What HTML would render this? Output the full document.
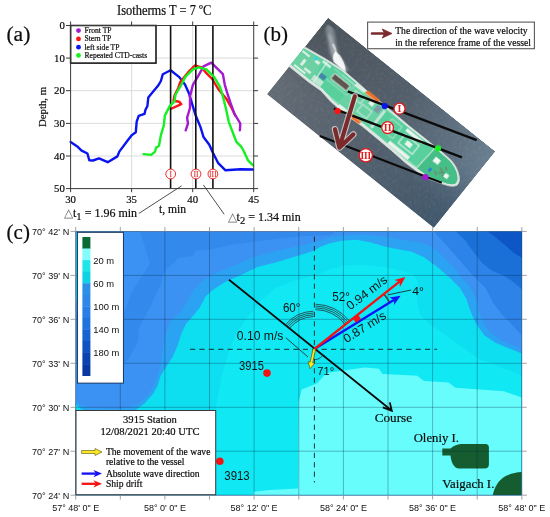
<!DOCTYPE html>
<html lang="en"><head><meta charset="utf-8"><title>Figure</title>
<style>html,body{margin:0;padding:0;background:#fff}svg{display:block}.se{font-family:"Liberation Serif", serif}.sa{font-family:"Liberation Sans", sans-serif}</style></head><body>
<svg width="550" height="517" viewBox="0 0 550 517">
<rect width="550" height="517" fill="#fff"/>
<g id="panel-a">
<path d="M131.6 25.5 V188.6 M192.7 25.5 V188.6 M70.6 58.1 H253.7 M70.6 90.7 H253.7 M70.6 123.4 H253.7 M70.6 156.0 H253.7" stroke="#d8d8d8" stroke-width="0.9" fill="none"/>
<polyline points="70.6,142.0 77.7,146.8 81.6,150.6 87.4,153.5 89.3,160.3 93.0,160.5 99.0,158.4 107.7,162.2 117.4,156.4 119.3,151.6 128.0,140.0 131.9,135.1 135.8,132.2 136.7,121.6 138.7,115.8 144.5,113.9 145.4,110.0 147.4,106.0 148.3,97.4 153.2,91.6 158.0,85.8 160.9,81.0 162.8,74.2 170.6,70.3 179.3,77.1 185.1,84.8 189.0,93.5 191.9,103.2 195.8,115.8 200.6,127.4 203.5,137.0 209.3,144.8 212.9,152.7 218.0,162.8 225.5,170.3 240.5,169.3 253.0,169.5" fill="none" stroke="#0a14f0" stroke-width="2.4" stroke-linejoin="round" stroke-linecap="round"/>
<polyline points="170.6,109.0 181.3,104.2 179.3,101.8 173.5,100.7 174.5,95.5 178.4,87.7 180.3,81.9 189.0,71.3 194.8,65.5 201.6,67.4 206.4,73.2 212.2,79.0 218.0,88.7 226.7,99.3 231.6,108.0 235.4,115.8" fill="none" stroke="#ff1212" stroke-width="2.4" stroke-linejoin="round" stroke-linecap="round"/>
<polyline points="185.7,130.3 188.0,123.5 187.1,117.7 190.0,108.0 190.0,96.4 192.9,84.8 198.7,75.1 203.5,66.4 211.3,62.6 217.1,68.4 222.9,74.2 224.8,84.8 227.7,94.5 230.6,103.2 234.5,113.8 240.3,123.5 239.9,130.3" fill="none" stroke="#a41ad0" stroke-width="2.4" stroke-linejoin="round" stroke-linecap="round"/>
<line x1="170.6" y1="25.5" x2="170.6" y2="188.6" stroke="#111" stroke-width="1.6"/>
<line x1="195.8" y1="25.5" x2="195.8" y2="188.6" stroke="#111" stroke-width="1.6"/>
<line x1="212.9" y1="25.5" x2="212.9" y2="188.6" stroke="#111" stroke-width="1.6"/>
<polyline points="143.5,154.1 151.2,154.9 155.1,151.6 156.0,147.7 159.0,145.8 160.9,135.1 163.8,125.5 164.8,115.8 169.7,106.1 174.5,101.3 175.5,94.5 181.3,84.8 185.1,77.1 192.9,69.3 198.7,67.4 206.4,69.3 214.2,77.1 220.0,86.8 222.9,96.4 225.8,108.0 228.7,121.6 231.6,129.3 234.5,137.0 236.4,141.9 241.2,146.7 243.2,150.0 248.0,160.3 253.0,165.3" fill="none" stroke="#14f022" stroke-width="2.4" stroke-linejoin="round" stroke-linecap="round"/>
<rect x="70.6" y="25.5" width="85.4" height="37.6" fill="#fff" stroke="#0a0a0a" stroke-width="1.5"/>
<circle cx="78.5" cy="30.6" r="2.4" fill="#a41ad0"/>
<text class="se" x="84.5" y="33.0" font-size="7.6" fill="#0c0c0c" stroke="#0c0c0c" stroke-width="0.2">Front TP</text>
<circle cx="78.5" cy="38.9" r="2.4" fill="#ff1212"/>
<text class="se" x="84.5" y="41.3" font-size="7.6" fill="#0c0c0c" stroke="#0c0c0c" stroke-width="0.2">Stern TP</text>
<circle cx="78.5" cy="47.2" r="2.4" fill="#0a14f0"/>
<text class="se" x="84.5" y="49.6" font-size="7.6" fill="#0c0c0c" stroke="#0c0c0c" stroke-width="0.2">left side TP</text>
<circle cx="78.5" cy="55.4" r="2.4" fill="#14f022"/>
<text class="se" x="84.5" y="57.8" font-size="7.6" fill="#0c0c0c" stroke="#0c0c0c" stroke-width="0.2">Repeated CTD-casts</text>
<rect x="70.6" y="25.5" width="183.1" height="163.1" fill="none" stroke="#3a3a3a" stroke-width="1"/>
<path d="M66.0 25.5 H70.6 M253.7 25.5 H258.09999999999997 M66.0 58.1 H70.6 M253.7 58.1 H258.09999999999997 M66.0 90.7 H70.6 M253.7 90.7 H258.09999999999997 M66.0 123.4 H70.6 M253.7 123.4 H258.09999999999997 M66.0 156.0 H70.6 M253.7 156.0 H258.09999999999997 M66.0 188.6 H70.6 M253.7 188.6 H258.09999999999997 M70.6 21.5 V25.5 M70.6 188.6 V192.2 M131.6 21.5 V25.5 M131.6 188.6 V192.2 M192.7 21.5 V25.5 M192.7 188.6 V192.2 M253.7 21.5 V25.5 M253.7 188.6 V192.2" stroke="#3a3a3a" stroke-width="1" fill="none"/>
<text class="se" x="64.9" y="29.0" font-size="10.8" text-anchor="end" fill="#0c0c0c" stroke="#0c0c0c" stroke-width="0.2">0</text>
<text class="se" x="64.9" y="61.6" font-size="10.8" text-anchor="end" fill="#0c0c0c" stroke="#0c0c0c" stroke-width="0.2">10</text>
<text class="se" x="64.9" y="94.2" font-size="10.8" text-anchor="end" fill="#0c0c0c" stroke="#0c0c0c" stroke-width="0.2">20</text>
<text class="se" x="64.9" y="126.9" font-size="10.8" text-anchor="end" fill="#0c0c0c" stroke="#0c0c0c" stroke-width="0.2">30</text>
<text class="se" x="64.9" y="159.5" font-size="10.8" text-anchor="end" fill="#0c0c0c" stroke="#0c0c0c" stroke-width="0.2">40</text>
<text class="se" x="64.9" y="192.1" font-size="10.8" text-anchor="end" fill="#0c0c0c" stroke="#0c0c0c" stroke-width="0.2">50</text>
<text class="se" x="70.6" y="202.8" font-size="10.8" text-anchor="middle" fill="#0c0c0c" stroke="#0c0c0c" stroke-width="0.2">30</text>
<text class="se" x="131.6" y="202.8" font-size="10.8" text-anchor="middle" fill="#0c0c0c" stroke="#0c0c0c" stroke-width="0.2">35</text>
<text class="se" x="192.7" y="202.8" font-size="10.8" text-anchor="middle" fill="#0c0c0c" stroke="#0c0c0c" stroke-width="0.2">40</text>
<text class="se" x="253.7" y="202.8" font-size="10.8" text-anchor="middle" fill="#0c0c0c" stroke="#0c0c0c" stroke-width="0.2">45</text>
<text class="se" transform="translate(45.8,107) rotate(-90)" font-size="10.8" text-anchor="middle" fill="#0c0c0c" stroke="#0c0c0c" stroke-width="0.2">Depth, m</text>
<text class="se" x="117" y="15.4" font-size="14.2" fill="#0c0c0c" stroke="#0c0c0c" stroke-width="0.2" textLength="94.2" lengthAdjust="spacingAndGlyphs">Isotherms T = 7 ºC</text>
<text class="se" x="6.4" y="41" font-size="21.6" fill="#0c0c0c" stroke="#0c0c0c" stroke-width="0.2">(a)</text>
<circle cx="170.7" cy="174" r="4.9" fill="#fff" fill-opacity="0.9" stroke="#f01818" stroke-width="0.9"/>
<text class="se" x="170.7" y="176.6" font-size="7.6" text-anchor="middle" fill="#f01818">I</text>
<circle cx="196" cy="174" r="4.9" fill="#fff" fill-opacity="0.9" stroke="#f01818" stroke-width="0.9"/>
<text class="se" x="196" y="176.6" font-size="7.6" text-anchor="middle" fill="#f01818">II</text>
<circle cx="212.9" cy="174" r="4.9" fill="#fff" fill-opacity="0.9" stroke="#f01818" stroke-width="0.9"/>
<text class="se" x="212.9" y="176.6" font-size="7.6" text-anchor="middle" fill="#f01818">III</text>
<path d="M181.5 185.9 L138.8 213.5 M203.4 184.9 L224.2 214.3" stroke="#222" stroke-width="0.8" fill="none"/>
<text class="se" x="64" y="217.4" font-size="12" fill="#0c0c0c" stroke="#0c0c0c" stroke-width="0.2"><tspan fill="#666" stroke="none">△</tspan>t<tspan dy="2.6" font-size="10.6">1</tspan><tspan dy="-2.6"> = 1.96 min</tspan></text>
<text class="se" x="172.5" y="213.2" font-size="11.6" text-anchor="middle" fill="#0c0c0c" stroke="#0c0c0c" stroke-width="0.2">t, min</text>
<text class="se" x="227.6" y="221.4" font-size="12" fill="#0c0c0c" stroke="#0c0c0c" stroke-width="0.2"><tspan fill="#666" stroke="none">△</tspan>t<tspan dy="2.6" font-size="10.6">2</tspan><tspan dy="-2.6"> = 1.34 min</tspan></text>
</g>
<g id="panel-b">
<defs><linearGradient id="wgb" x1="0" y1="0" x2="1" y2="0"><stop offset="0" stop-color="#646c75"/><stop offset="0.45" stop-color="#56626e"/><stop offset="1" stop-color="#41576b"/></linearGradient><linearGradient id="wgt" x1="0" y1="0" x2="1" y2="0"><stop offset="0" stop-color="#4b535b"/><stop offset="0.5" stop-color="#525e6a"/><stop offset="1" stop-color="#6a8092"/></linearGradient><linearGradient id="wgm" x1="0" y1="0" x2="0" y2="1"><stop offset="0" stop-color="#fff"/><stop offset="0.3" stop-color="#fff" stop-opacity="0.85"/><stop offset="0.75" stop-color="#fff" stop-opacity="0.1"/><stop offset="1" stop-color="#fff" stop-opacity="0"/></linearGradient><mask id="wmk" maskUnits="userSpaceOnUse" x="-107" y="-49" width="214" height="98"><rect x="-107" y="-49" width="214" height="98" fill="url(#wgm)"/></mask><filter id="wn" x="0" y="0" width="100%" height="100%"><feTurbulence type="fractalNoise" baseFrequency="0.35" numOctaves="2" seed="3" result="n"/><feColorMatrix in="n" type="matrix" values="0 0 0 0 1  0 0 0 0 1  0 0 0 0 1  0.9 0 0 0 -0.38"/><feComposite operator="in" in2="SourceGraphic"/></filter><filter id="bl1"><feGaussianBlur stdDeviation="1.4"/></filter><filter id="bl2"><feGaussianBlur stdDeviation="0.5"/></filter><clipPath id="pc"><rect x="-107" y="-49" width="214" height="98"/></clipPath></defs>
<g transform="translate(381,122.8) rotate(38.7)"><g clip-path="url(#pc)">
<rect x="-107" y="-49" width="214" height="98" fill="url(#wgb)"/>
<rect x="-107" y="-49" width="214" height="98" fill="url(#wgt)" mask="url(#wmk)"/>
<rect x="-107" y="-49" width="214" height="98" fill="#8fa3b5" opacity="0.16" filter="url(#wn)"/>
<path d="M-99 -41 C-93 -37 -88 -31 -82 -26 C-77 -22 -70 -20 -62 -18" stroke="#b4bec6" stroke-width="8" fill="none" opacity="0.5" filter="url(#bl1)" stroke-linecap="round"/>
<path d="M-95 -36 C-90 -33 -85 -29 -80 -25 C-76 -22 -70 -20 -63 -18.5" stroke="#e4eaea" stroke-width="2.6" fill="none" opacity="0.5" filter="url(#bl1)" stroke-linecap="round"/>
<path d="M-80 -27 C-76 -28 -69 -26 -63 -21.5 L-59 -17 L-75 -18 C-79 -20.5 -80.5 -24 -80 -27Z" fill="#fff" opacity="0.9" filter="url(#bl2)"/>
<path d="M-86 -31 C-83 -30 -80 -28 -77 -25" stroke="#fff" stroke-width="2.2" fill="none" opacity="0.6" filter="url(#bl2)" stroke-linecap="round"/>
<path d="M-108 -11.4 L-82 -15.5 L-63 -17.5 L-44 -16.9 L-25 -15.8 L-8 -16.0 L24 -15.2 L53 -15.3 L62 -15.4 L77 -14.7 C84 -14 90 -11 94 -7.5 C97 -5 98.8 -2 98.4 1 C97.6 4 93 6.8 89 8.2 C82 10.8 75 13.4 68.6 14.8 L56 15.5 L44 16 L25 15.1 L7 14.7 L-12 14.5 L-34 15.8 L-53 14.8 L-67 12.5 L-82 13.5 L-108 13.5Z" fill="#dfe7e2" stroke="#cfd8d4" stroke-width="0.8"/>
<path d="M-108 -9.8 L-82 -13.9 L-63 -15.9 L-44 -15.3 L-25 -14.2 L-8 -14.4 L24 -13.6 L53 -13.7 L62 -13.8 L77 -13.1 C83 -12.4 88.5 -9.8 92.2 -6.6 C95 -4.2 96.4 -1.8 96 0.6 C95.4 3 91.5 5.2 88 6.6 C81 9 74 11 68.2 12.2 L56 12.9 L44 13.4 L25 12.5 L7 12.1 L-12 11.9 L-34 13.2 L-53 12.2 L-67 9.9 L-82 10.9 L-108 10.9Z" fill="#58d09e"/>
<path d="M57 -14 L76 -13.2 C83 -12.4 88.5 -9.8 92.2 -6.6 C95 -4.2 96.4 -1.8 96 0.6 C95.4 3 91.5 5.2 88 6.6 C81 9 74 11 68.2 12.2 L55.5 12.8Z" fill="#46be88"/>
<g filter="url(#bl2)">
<path d="M-108 -9 L-84 -12.5 L-80 10 L-108 10.5Z" fill="#6fd0a4" opacity="0.8"/>
<path d="M-106 -8 h9 v2 h-9z M-100 -2 h3 v7 h-3z M-94 4 h8 v2.4 h-8z M-90 -9 h5 v3 h-5z M-84 -13 h10 v2.4 h-10z M-104 8 h14 v2 h-14z" fill="#eef5f0" opacity="0.85"/>
<rect x="-93" y="-11" width="4" height="3" fill="#30d8e0" opacity="0.9"/>
<rect x="-78" y="-2" width="7" height="5" fill="#3f6fb0" opacity="0.75"/>
<path d="M-80 -14 L-78 11" stroke="#eaf3ee" stroke-width="1.2" opacity="0.8"/>
<path d="M-82 4 h12 v6 h-12z" fill="#e8f0ea" opacity="0.7"/>
<rect x="-67" y="-9.8" width="20" height="6.8" rx="1.2" fill="#5c5650" stroke="#e3eae4" stroke-width="1"/>
<path d="M-70 -13 H-44 V0 H-70" fill="none" stroke="#dfeee6" stroke-width="0.7" opacity="0.7"/>
<rect x="-31" y="-17.2" width="16" height="4.4" rx="2" fill="#f0712c"/>
<rect x="-33" y="10.6" width="17" height="4.4" rx="2" fill="#f0712c"/>
<path d="M-44 -15.5 h12 v3 h-12z M-44 11 h10 v3 h-10z" fill="#eef4f0" opacity="0.85"/>
<rect x="-46" y="-12" width="42" height="22" fill="#7ad4aa" opacity="0.5"/>
<rect x="-40" y="-9" width="12" height="7" fill="none" stroke="#eaf3ee" stroke-width="0.9" opacity="0.9"/>
<rect x="-26" y="-3" width="12" height="9" fill="none" stroke="#eaf3ee" stroke-width="0.9" opacity="0.9"/>
<rect x="-14" y="-12" width="6" height="7" fill="#7f8fa8" opacity="0.8"/>
<rect x="-6" y="-12" width="3" height="22" fill="#dfe9e3" opacity="0.8"/>
<rect x="-22" y="-11" width="5" height="4" fill="#f2f6f3" opacity="0.9"/>
<rect x="24" y="-12.4" width="21" height="3.6" fill="#f2f6f2" opacity="0.95"/>
<rect x="18" y="8.4" width="26" height="3.8" fill="#f2f6f2" opacity="0.95"/>
<rect x="26" y="-6" width="18" height="11" fill="none" stroke="#eef6f0" stroke-width="1.1" opacity="0.95"/>
<rect x="31.5" y="-3" width="7" height="5" fill="#f4f8f5" opacity="0.9"/>
<rect x="6" y="-10" width="13" height="15" fill="none" stroke="#dcebe2" stroke-width="0.8" opacity="0.85"/>
<path d="M58 -15 L56 13" stroke="#eaf2ec" stroke-width="1" opacity="0.95"/>
<rect x="64" y="-8" width="6.5" height="5.5" fill="#f6f9f7" opacity="0.98"/>
<rect x="66" y="4" width="3" height="4" fill="#2f7fd0" opacity="0.9"/>
<path d="M74 -2 l6 2 l-4 3 M80 3 l5 -1 M78 -6 l3 2 M72 4 l4 2" stroke="#8a6a5a" stroke-width="1.1" fill="none" opacity="0.8"/>
<rect x="82" y="-1.5" width="4.5" height="4.5" fill="#f6f9f7" opacity="0.95"/>
<path d="M-60 -13 L50 -14.5 M-60 11.5 L56 12.6" stroke="#e8f2ec" stroke-width="0.8" opacity="0.55" fill="none"/>
</g>
</g></g>
<path d="M347.8 91.4 L476.7 140.2 M333.8 108.7 L461.9 157.3 M319.8 136 L441.8 182.7" stroke="#0c0c0c" stroke-width="2.3" fill="none"/>
<circle cx="384.7" cy="106.0" r="3.1" fill="#0a14f0"/>
<circle cx="337.6" cy="111" r="3.1" fill="#ff1212"/>
<circle cx="438" cy="148.3" r="3.1" fill="#14f022"/>
<circle cx="425.4" cy="177.1" r="3.1" fill="#a41ad0"/>
<g fill="none" stroke-linecap="round" stroke-linejoin="round"><path d="M354.8 96.4 L340.6 143.5 M335 129.2 L339.4 147.6 L353.4 134.4" stroke="#f0e8e6" stroke-width="6.4" opacity="0.7"/><path d="M354.8 96.4 L340.6 143.5 M335 129.2 L339.4 147.6 L353.4 134.4" stroke="#7b2a2c" stroke-width="4.2"/></g>
<circle cx="399.5" cy="108.7" r="5.5" fill="#fff" stroke="#e81818" stroke-width="1.3"/>
<text class="se" x="397.6" y="112.3" font-size="10.6" font-weight="bold" fill="#e81818" textLength="3.9" lengthAdjust="spacingAndGlyphs">I</text>
<circle cx="387.6" cy="127.6" r="5.9" fill="#fff" stroke="#e81818" stroke-width="1.3"/>
<text class="se" x="383.8" y="131.2" font-size="10.6" font-weight="bold" fill="#e81818" textLength="7.7" lengthAdjust="spacingAndGlyphs">II</text>
<circle cx="365.8" cy="155.3" r="6.6" fill="#fff" stroke="#e81818" stroke-width="1.3"/>
<text class="se" x="360.4" y="158.9" font-size="10.6" font-weight="bold" fill="#e81818" textLength="10.8" lengthAdjust="spacingAndGlyphs">III</text>
<rect x="367.6" y="22.1" width="166.8" height="26.6" fill="#fff" stroke="#5a5a5a" stroke-width="1.1"/>
<path d="M372 33.5 H385" stroke="#7b2a2c" stroke-width="2.6" fill="none" stroke-linecap="round"/><path d="M382.2 29 L392 33.5 L382.2 38 L384.6 33.5Z" fill="#7b2a2c" stroke="#7b2a2c" stroke-width="0.8" stroke-linejoin="round"/>
<text class="se" x="395.2" y="34" font-size="10.1" fill="#0c0c0c" stroke="#0c0c0c" stroke-width="0.2" textLength="132.5" lengthAdjust="spacingAndGlyphs">The direction of the wave velocity</text>
<text class="se" x="395.2" y="46" font-size="10.1" fill="#0c0c0c" stroke="#0c0c0c" stroke-width="0.2" textLength="135.8" lengthAdjust="spacingAndGlyphs">in the reference frame of the vessel</text>
<text class="se" x="263.5" y="41" font-size="21" fill="#0c0c0c" stroke="#0c0c0c" stroke-width="0.2">(b)</text>
</g>
<g id="panel-c">
<defs><clipPath id="mc"><rect x="75.7" y="231.4" width="446.1" height="263.8"/></clipPath></defs>
<g clip-path="url(#mc)">
<rect x="75.7" y="231.4" width="446.1" height="263.8" fill="#3389ec"/>
<polygon points="75.7,231.4 140.0,231.4 144.0,244.0 150.0,264.0 142.0,276.0 132.0,292.0 126.0,308.0 124.0,312.0 75.7,312.0" fill="#3b92f3"/>
<rect x="75.7" y="231.4" width="1.8" height="70" fill="#14c6e0"/>
<polygon points="433.6,231.4 447.3,246.2 460.0,260.7 472.7,275.3 485.5,288.0 493.0,302.7 502.7,315.5 513.6,326.4 521.8,335.5 522.0,231.4" fill="#2e83e8"/>
<polygon points="455.8,231.4 464.5,239.6 474.2,253.1 481.9,262.8 491.6,270.6 503.3,275.5 512.0,281.0 522.0,289.5 522.0,231.4" fill="#1b70d8"/>
<polygon points="488.0,231.4 497.0,238.5 506.0,246.0 514.0,253.0 522.0,258.0 522.0,231.4" fill="#0c56c6"/>
<polygon points="75.7,364.0 123.0,364.0 127.7,360.0 133.2,351.0 138.6,340.0 138.0,330.0 144.0,318.0 150.0,308.0 156.0,294.0 161.0,284.0 163.0,275.0 167.0,268.0 174.0,263.0 178.0,258.0 193.0,256.0 196.0,250.4 208.0,250.0 230.0,245.0 248.0,242.5 275.5,239.0 303.0,236.0 330.0,235.3 336.0,231.4 433.6,231.4 447.3,246.2 460.0,260.7 472.7,275.3 485.5,288.0 493.0,302.7 502.7,315.5 513.6,326.4 521.8,335.5 521.8,495.2 75.7,495.2" fill="#3b92f3"/>
<polygon points="75.7,400.5 81.0,405.0 91.0,408.0 115.0,409.0 131.0,407.0 141.0,402.0 149.0,394.0 154.0,385.0 157.0,377.0 160.0,367.0 162.5,352.0 164.0,343.0 166.5,331.0 171.0,320.5 180.0,312.7 187.3,301.8 192.7,290.9 201.8,281.8 212.7,274.5 227.3,268.2 240.0,263.6 248.2,258.9 266.4,253.5 284.5,248.9 302.7,245.3 320.0,240.7 331.0,237.0 343.6,235.3 360.0,234.8 374.5,235.6 389.0,237.5 400.0,239.5 414.5,241.5 424.0,243.5 430.0,245.5 440.5,254.0 451.0,264.6 461.4,276.9 470.0,287.3 477.0,300.0 479.0,312.0 484.5,325.0 492.5,334.5 503.0,341.0 513.6,345.6 521.8,349.0 521.8,495.2 75.7,495.2" fill="#2ca2f3"/>
<polygon points="75.7,404.0 81.0,409.0 90.0,411.5 135.0,410.5 145.0,403.0 153.0,394.0 158.0,385.0 160.5,376.0 166.3,366.6 172.5,357.3 177.2,346.4 181.8,332.5 186.4,323.2 192.6,316.5 200.0,307.3 205.5,296.4 212.7,290.0 225.5,281.8 240.0,275.5 257.3,267.1 275.5,262.5 293.6,257.1 311.8,251.6 320.0,247.0 329.0,243.5 341.8,240.7 356.4,239.8 371.0,242.5 383.6,246.2 396.4,249.0 411.0,251.6 423.6,257.0 436.4,266.2 449.0,277.0 460.0,288.0 466.4,299.0 470.0,310.0 475.5,322.7 484.5,335.5 495.5,342.7 508.0,348.0 521.8,353.6 521.8,495.2 75.7,495.2" fill="#0ddff0"/>
<polygon points="214.0,495.2 214.8,415.0 218.8,391.0 222.9,370.9 229.0,350.6 237.0,332.3 247.2,318.0 253.6,310.0 260.9,300.7 275.5,288.0 293.6,280.7 311.8,276.2 320.0,273.5 331.0,268.9 347.3,265.3 365.5,265.3 383.6,267.1 401.8,270.7 414.0,275.0 418.0,282.0 417.0,300.0 420.0,315.0 430.0,324.5 441.0,331.8 453.6,341.0 466.4,350.0 479.0,359.0 493.6,364.5 508.0,370.0 521.8,375.5 521.8,495.2" fill="#10e9f4"/>
<polygon points="253.7,495.2 253.7,491.7 270.0,490.0 298.0,488.5 298.6,402.0 301.7,389.5 317.2,383.3 326.5,373.0 340.0,371.0 365.0,367.5 379.0,368.7 382.4,374.0 417.2,375.7 424.0,380.9 448.5,382.6 455.4,387.8 504.0,391.3 521.8,397.5 521.8,495.2" fill="#68fdfd"/>
<path d="M442.3 448.6 L450.5 448.6 C453 446 458 444 462.7 444 L485.5 444 Q488.9 444 488.9 447.5 L488.9 464.5 Q488.9 468.5 484.5 468.5 L459 468.5 C454 468.5 451 462 450.5 455.5 L442.3 455.5Z" fill="#155c30"/>
<path d="M492.8 495.2 C494 488 498 481 504 477 C509 473.8 515 472.4 521.8 472 L521.8 495.2Z" fill="#155c30"/>
<path d="M120.3 231.4 V495.2 M164.9 231.4 V495.2 M209.5 231.4 V495.2 M254.1 231.4 V495.2 M298.8 231.4 V495.2 M343.4 231.4 V495.2 M388.0 231.4 V495.2 M432.6 231.4 V495.2 M477.2 231.4 V495.2 M75.7 275.4 H521.8 M75.7 319.3 H521.8 M75.7 363.3 H521.8 M75.7 407.3 H521.8 M75.7 451.2 H521.8" stroke="#062040" stroke-opacity="0.45" stroke-width="0.7" fill="none"/>
</g>
<rect x="75.7" y="231.4" width="446.1" height="263.8" fill="none" stroke="#1a4a7a" stroke-opacity="0.8" stroke-width="0.8"/>
<path d="M70.5 231.4 H75.7 M521.8 231.4 H526.8 M70.5 275.4 H75.7 M521.8 275.4 H526.8 M70.5 319.3 H75.7 M521.8 319.3 H526.8 M70.5 363.3 H75.7 M521.8 363.3 H526.8 M70.5 407.3 H75.7 M521.8 407.3 H526.8 M70.5 451.2 H75.7 M521.8 451.2 H526.8 M70.5 495.2 H75.7 M521.8 495.2 H526.8 M75.7 227.0 V231.4 M75.7 495.2 V499.6 M120.3 227.0 V231.4 M120.3 495.2 V499.6 M164.9 227.0 V231.4 M164.9 495.2 V499.6 M209.5 227.0 V231.4 M209.5 495.2 V499.6 M254.1 227.0 V231.4 M254.1 495.2 V499.6 M298.8 227.0 V231.4 M298.8 495.2 V499.6 M343.4 227.0 V231.4 M343.4 495.2 V499.6 M388.0 227.0 V231.4 M388.0 495.2 V499.6 M432.6 227.0 V231.4 M432.6 495.2 V499.6 M477.2 227.0 V231.4 M477.2 495.2 V499.6 M521.8 227.0 V231.4 M521.8 495.2 V499.6" stroke="#9a9a9a" stroke-width="0.9" fill="none"/>
<text class="sa" x="69.2" y="234.7" font-size="9" text-anchor="end" fill="#111" textLength="37.2" lengthAdjust="spacingAndGlyphs">70° 42' N</text>
<text class="sa" x="69.2" y="278.7" font-size="9" text-anchor="end" fill="#111" textLength="37.2" lengthAdjust="spacingAndGlyphs">70° 39' N</text>
<text class="sa" x="69.2" y="322.6" font-size="9" text-anchor="end" fill="#111" textLength="37.2" lengthAdjust="spacingAndGlyphs">70° 36' N</text>
<text class="sa" x="69.2" y="366.6" font-size="9" text-anchor="end" fill="#111" textLength="37.2" lengthAdjust="spacingAndGlyphs">70° 33' N</text>
<text class="sa" x="69.2" y="410.6" font-size="9" text-anchor="end" fill="#111" textLength="37.2" lengthAdjust="spacingAndGlyphs">70° 30' N</text>
<text class="sa" x="69.2" y="454.6" font-size="9" text-anchor="end" fill="#111" textLength="37.2" lengthAdjust="spacingAndGlyphs">70° 27' N</text>
<text class="sa" x="69.2" y="498.5" font-size="9" text-anchor="end" fill="#111" textLength="37.2" lengthAdjust="spacingAndGlyphs">70° 24' N</text>
<text class="sa" x="75.7" y="511" font-size="9" text-anchor="middle" fill="#111">57° 48' 0" E</text>
<text class="sa" x="164.9" y="511" font-size="9" text-anchor="middle" fill="#111">58° 0' 0" E</text>
<text class="sa" x="254.1" y="511" font-size="9" text-anchor="middle" fill="#111">58° 12' 0" E</text>
<text class="sa" x="343.4" y="511" font-size="9" text-anchor="middle" fill="#111">58° 24' 0" E</text>
<text class="sa" x="432.6" y="511" font-size="9" text-anchor="middle" fill="#111">58° 36' 0" E</text>
<text class="sa" x="521.8" y="511" font-size="9" text-anchor="middle" fill="#111">58° 48' 0" E</text>
<text class="se" x="6.6" y="239.4" font-size="21" fill="#0c0c0c" stroke="#0c0c0c" stroke-width="0.2">(c)</text>
<rect x="77.4" y="232.3" width="46" height="150.8" fill="#fff" stroke="#0c2a55" stroke-width="0.9"/>
<rect x="82.4" y="237.00" width="8" height="11.86" fill="#0a6a36"/>
<rect x="82.4" y="248.56" width="8" height="11.86" fill="#84fcfc"/>
<rect x="82.4" y="260.12" width="8" height="11.86" fill="#20e6ea"/>
<rect x="82.4" y="271.68" width="8" height="11.86" fill="#10d2e2"/>
<rect x="82.4" y="283.23" width="8" height="11.86" fill="#2d90e6"/>
<rect x="82.4" y="294.79" width="8" height="11.86" fill="#2f88e8"/>
<rect x="82.4" y="306.35" width="8" height="11.86" fill="#2a7fe4"/>
<rect x="82.4" y="317.91" width="8" height="11.86" fill="#2074de"/>
<rect x="82.4" y="329.47" width="8" height="11.86" fill="#1562d0"/>
<rect x="82.4" y="341.02" width="8" height="11.86" fill="#0f52c2"/>
<rect x="82.4" y="352.58" width="8" height="11.86" fill="#0a42b2"/>
<rect x="82.4" y="364.14" width="8" height="11.86" fill="#0838a2"/>
<text class="sa" x="93.3" y="263.5" font-size="9.4" fill="#111">20 m</text>
<text class="sa" x="93.3" y="286.6" font-size="9.4" fill="#111">60 m</text>
<text class="sa" x="93.3" y="309.8" font-size="9.4" fill="#111">100 m</text>
<text class="sa" x="93.3" y="332.9" font-size="9.4" fill="#111">140 m</text>
<text class="sa" x="93.3" y="356.0" font-size="9.4" fill="#111">180 m</text>
<path d="M314.4 236.6 V482.4 M190 349.3 H437" stroke="#1a1a1a" stroke-width="0.9" stroke-dasharray="5.2 4.2" fill="none"/>
<path d="M229 279.7 L391.6 410.5 M389.8 402.4 L391.8 410.9 L382.8 407.4" stroke="#0a0a0a" stroke-width="1.8" fill="none" stroke-linejoin="miter"/>
<path d="M313.6 316.6 A32.4 32.4 0 0 0 289.4 328.4 M313.5 314.8 A34.2 34.2 0 0 0 288.0 327.2 M313.5 313.0 A36.0 36.0 0 0 0 286.6 326.1 M313.4 311.2 A37.8 37.8 0 0 0 285.2 325.0 M315.4 309.6 A39.4 39.4 0 0 1 345.0 324.2 M315.5 307.8 A41.2 41.2 0 0 1 346.4 323.1 M315.5 306.0 A43.0 43.0 0 0 1 347.8 321.9 M315.6 304.2 A44.8 44.8 0 0 1 349.2 320.8 M322.6 355.6 A10.5 10.5 0 0 1 312.2 359.3" stroke="#2a2a2a" stroke-width="0.75" fill="none"/>
<path d="M383.9 294.1 A88.5 88.5 0 0 1 389.6 302.4" stroke="#3c4a4a" stroke-width="1.7" fill="none"/>
<path d="M388 294.8 L411.2 290 M285.8 337.7 L308 357" stroke="#1a1a1a" stroke-width="0.8" fill="none"/>
<path d="M314.4 349.0 L394.2 299.8" stroke="#1212f4" stroke-width="2.3" fill="none"/>
<path d="M400.6 295.8 L394.0 305.1 L394.2 299.8 L389.4 297.6Z" fill="#1212f4"/>
<path d="M314.4 349.0 L399.5 281.7" stroke="#f41212" stroke-width="2.3" fill="none"/>
<path d="M405.4 277.0 L399.9 287.0 L399.5 281.7 L394.4 280.1Z" fill="#f41212"/>
<rect x="-3.2" y="-2.4" width="6.4" height="4.8" rx="1.2" fill="#f41212" transform="translate(357.1,318.8) rotate(-36)"/>
<polygon points="313.1,348.7 310.1,362.2 308.1,361.7 310.0,368.8 314.7,363.2 312.7,362.7 315.7,349.3" fill="#fae820" stroke="#4a4000" stroke-width="0.6" stroke-linejoin="round"/>
<text class="sa" x="236.8" y="340.4" font-size="12.2" fill="#111" textLength="46.6" lengthAdjust="spacingAndGlyphs">0.10 m/s</text>
<text class="sa" x="282.9" y="312.2" font-size="12.4" fill="#111" textLength="17.6" lengthAdjust="spacingAndGlyphs">60°</text>
<text class="sa" x="332.2" y="300.6" font-size="12.4" fill="#111" textLength="17.6" lengthAdjust="spacingAndGlyphs">52°</text>
<text class="sa" x="317.2" y="375.4" font-size="11.6" fill="#111" textLength="17" lengthAdjust="spacingAndGlyphs">71°</text>
<text class="sa" x="412.2" y="294.8" font-size="11.8" fill="#111" textLength="11.6" lengthAdjust="spacingAndGlyphs">4°</text>
<text class="sa" x="239.1" y="370.2" font-size="12.4" fill="#111" textLength="24.8" lengthAdjust="spacingAndGlyphs">3915</text>
<text class="sa" x="224.3" y="479.9" font-size="12.4" fill="#111" textLength="25.4" lengthAdjust="spacingAndGlyphs">3913</text>
<text class="sa" transform="translate(350.2,310.6) rotate(-37.5)" font-size="12.2" fill="#111" textLength="48" lengthAdjust="spacingAndGlyphs">0.94 m/s</text>
<text class="sa" transform="translate(346.4,343.2) rotate(-32)" font-size="12.2" fill="#111" textLength="48" lengthAdjust="spacingAndGlyphs">0.87 m/s</text>
<circle cx="267" cy="373.1" r="3.8" fill="#f41212"/><circle cx="219.8" cy="461.2" r="3.8" fill="#f41212"/>
<text class="se" x="374.7" y="422.2" font-size="12.4" fill="#0c0c0c" stroke="#0c0c0c" stroke-width="0.2" textLength="37.3" lengthAdjust="spacingAndGlyphs">Course</text>
<text class="se" x="413.7" y="441.8" font-size="12.4" fill="#0c0c0c" stroke="#0c0c0c" stroke-width="0.2" textLength="45.2" lengthAdjust="spacingAndGlyphs">Oleniy I.</text>
<text class="se" x="442.2" y="487.6" font-size="12.4" fill="#0c0c0c" stroke="#0c0c0c" stroke-width="0.2" textLength="52.2" lengthAdjust="spacingAndGlyphs">Vaigach I.</text>
<rect x="76" y="410.5" width="139.7" height="84.2" fill="#fff" stroke="#3a3a3a" stroke-width="1"/>
<text class="se" x="150" y="423.4" font-size="10.6" text-anchor="middle" fill="#0c0c0c" stroke="#0c0c0c" stroke-width="0.2">3915 Station</text>
<text class="se" x="150" y="435.2" font-size="10.6" text-anchor="middle" fill="#0c0c0c" stroke="#0c0c0c" stroke-width="0.2" textLength="99" lengthAdjust="spacingAndGlyphs">12/08/2021 20:40 UTC</text>
<polygon points="81.6,453.5 95.0,453.5 95.0,455.5 102.0,452.0 95.0,448.5 95.0,450.5 81.6,450.5" fill="#fae820" stroke="#4a4000" stroke-width="0.55" stroke-linejoin="round"/>
<path d="M81.6 473.6 L95.9 473.6" stroke="#1212f4" stroke-width="2.3" fill="none"/>
<path d="M102.0 473.6 L93.5 477.2 L95.9 473.6 L93.5 470.0Z" fill="#1212f4"/>
<path d="M81.6 483.8 L95.9 483.8" stroke="#f41212" stroke-width="2.3" fill="none"/>
<path d="M102.0 483.8 L93.5 487.4 L95.9 483.8 L93.5 480.2Z" fill="#f41212"/>
<text class="se" x="105.9" y="454.6" font-size="9.6" fill="#0c0c0c" stroke="#0c0c0c" stroke-width="0.2" textLength="104.5" lengthAdjust="spacingAndGlyphs">The movement of the wave</text>
<text class="se" x="105.9" y="465.4" font-size="9.6" fill="#0c0c0c" stroke="#0c0c0c" stroke-width="0.2">relative to the vessel</text>
<text class="se" x="105.9" y="476.8" font-size="9.6" fill="#0c0c0c" stroke="#0c0c0c" stroke-width="0.2">Absolute wave direction</text>
<text class="se" x="105.9" y="487.0" font-size="9.6" fill="#0c0c0c" stroke="#0c0c0c" stroke-width="0.2">Ship drift</text>
</g>
</svg></body></html>
